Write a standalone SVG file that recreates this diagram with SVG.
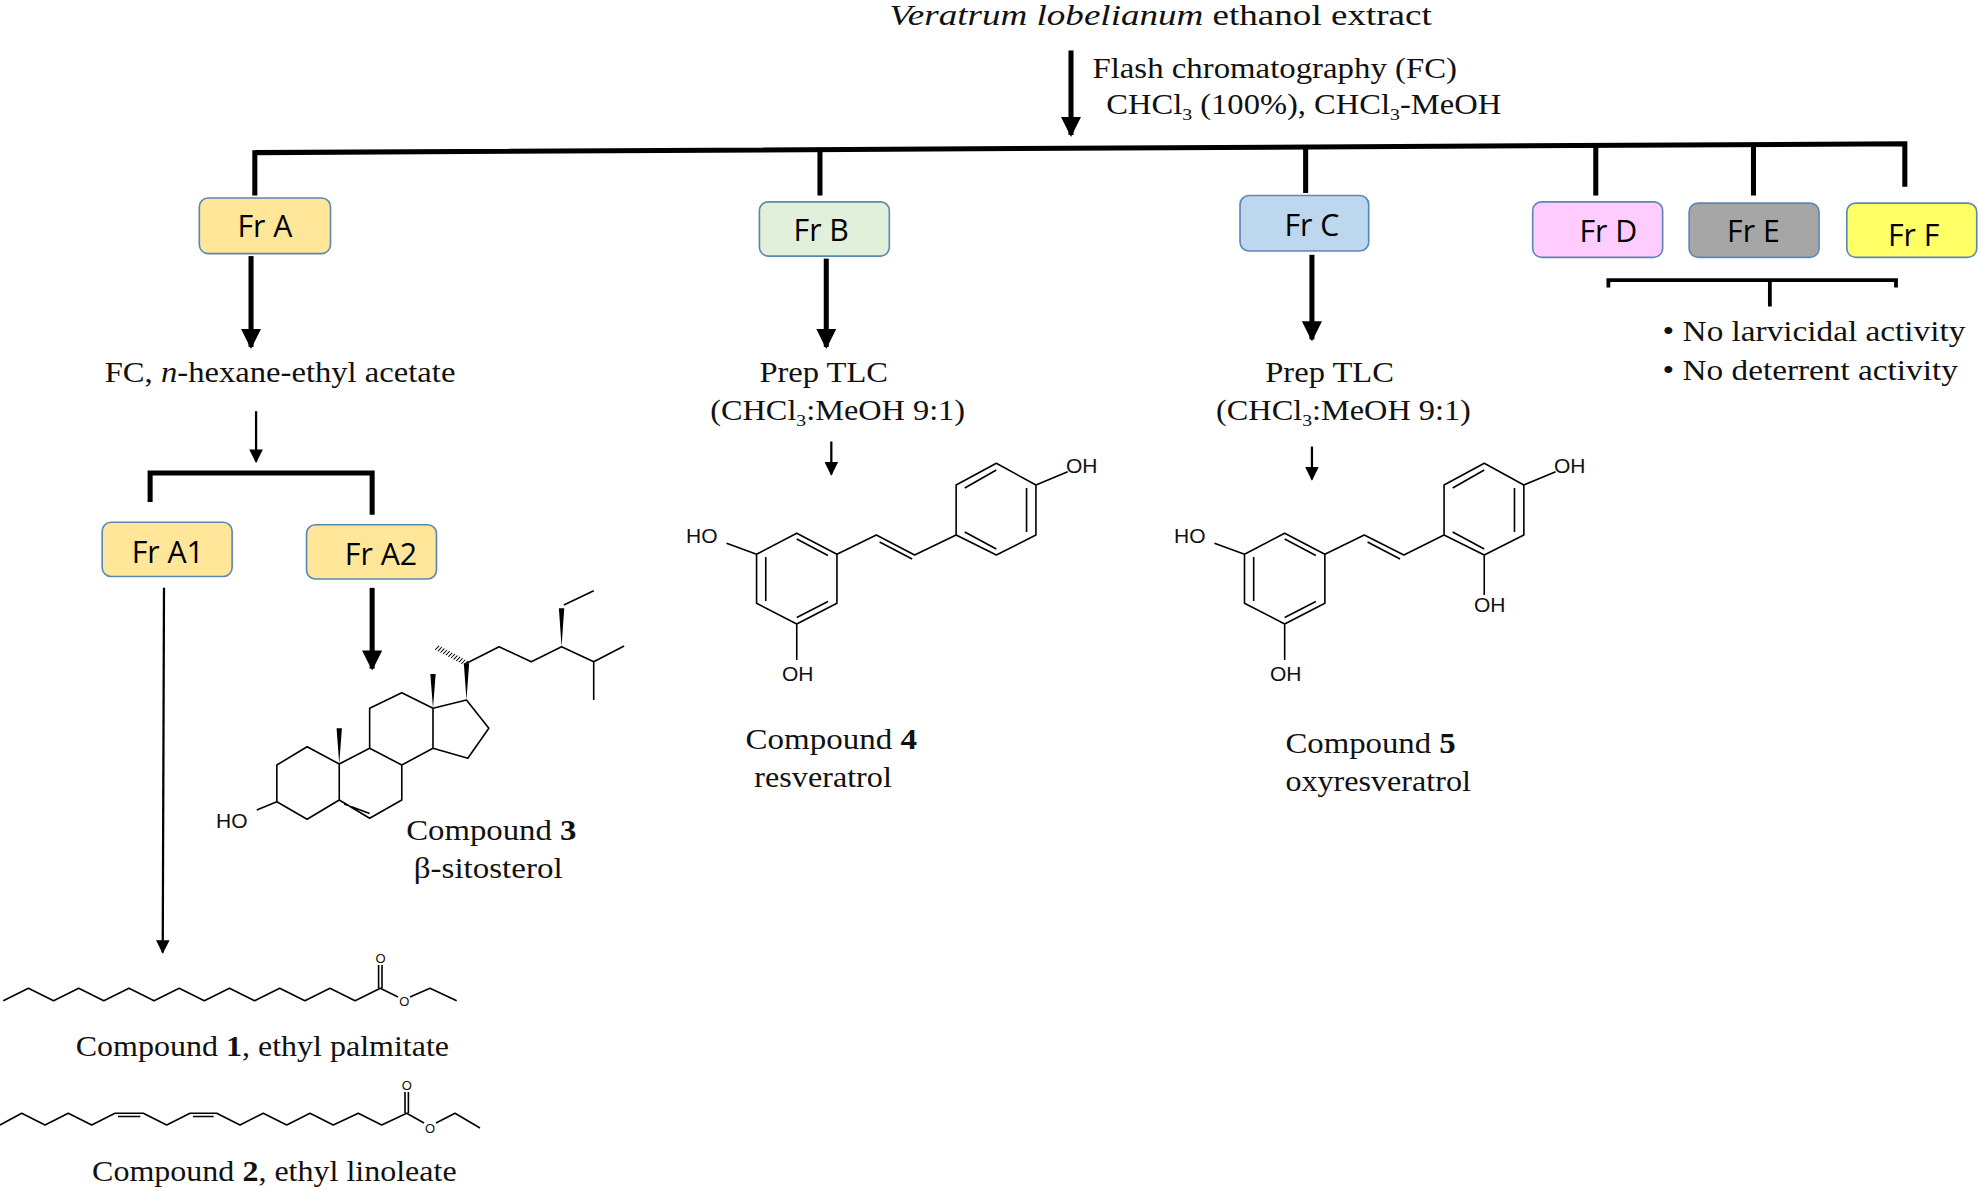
<svg xmlns="http://www.w3.org/2000/svg" width="1978" height="1189" viewBox="0 0 1978 1189">
<style>
.t{font-family:"Liberation Serif",serif;font-size:23px;fill:#111}
.bx{stroke:#5B87B5;stroke-width:1.3}
.bt{font-family:"Open Sans","Liberation Sans",sans-serif;font-size:24px;fill:#000;text-anchor:middle}
.k{stroke:#000;stroke-width:4;fill:none}
.n{stroke:#000;stroke-width:1.8;fill:none}
.m{stroke:#000;stroke-width:1.6;fill:none;stroke-linejoin:round}
.v{vector-effect:non-scaling-stroke}
.a{font-family:"Liberation Sans",sans-serif;font-size:21px;fill:#111}
.s{font-family:"Liberation Sans",sans-serif;font-size:13px;fill:#111;text-anchor:middle}
</style>
<defs>
<marker id="ah" viewBox="0 0 10 10" refX="9" refY="5" markerWidth="4" markerHeight="4" orient="auto"><path d="M0,0L10,5L0,10z" fill="#000"/></marker>
<marker id="ahs" viewBox="0 0 10 10" refX="9" refY="5" markerWidth="6" markerHeight="6" orient="auto"><path d="M0,0L10,5L0,10z" fill="#000"/></marker>
</defs>
<rect width="1978" height="1189" fill="#fff"/>
<g transform="scale(1.26148)">
<g id="connectors">
<line class="k" x1="849" y1="40" x2="849" y2="107" marker-end="url(#ah)"/>
<path class="k" d="M202,155V121L1510,114V148"/>
<line class="k" x1="650" y1="119" x2="650" y2="155"/>
<line class="k" x1="1035" y1="117" x2="1035" y2="153"/>
<line class="k" x1="1265" y1="116" x2="1265" y2="155"/>
<line class="k" x1="1390" y1="115" x2="1390" y2="155"/>
<line class="k" x1="199" y1="203" x2="199" y2="275" marker-end="url(#ah)"/>
<line class="n" x1="203" y1="326" x2="203" y2="366" marker-end="url(#ahs)"/>
<path class="k" d="M119,398V375H295V408"/>
<line class="n" x1="130" y1="466" x2="129" y2="755" marker-end="url(#ahs)"/>
<line class="k" x1="295" y1="466" x2="295" y2="530" marker-end="url(#ah)"/>
<line class="k" x1="655" y1="205" x2="655" y2="275" marker-end="url(#ah)"/>
<line class="k" x1="1040" y1="202" x2="1040" y2="269" marker-end="url(#ah)"/>
<line class="n" x1="659" y1="350" x2="659" y2="376" marker-end="url(#ahs)"/>
<line class="n" x1="1040" y1="354" x2="1040" y2="380" marker-end="url(#ahs)"/>
<path d="M1275,228V222H1503V228M1403,222V243" stroke="#000" stroke-width="3" fill="none"/>
</g>
<g id="title">
<text class="t" x="705" y="20" font-size="25" textLength="430" lengthAdjust="spacingAndGlyphs"><tspan font-style="italic">Veratrum lobelianum</tspan> ethanol  extract</text>
<text class="t" x="866" y="62" textLength="289" lengthAdjust="spacingAndGlyphs">Flash chromatography (FC)</text>
<text class="t" x="877" y="90" textLength="313" lengthAdjust="spacingAndGlyphs">CHCl<tspan font-size="14" dy="5">3</tspan><tspan dy="-5"> (100%),  CHCl</tspan><tspan font-size="14" dy="5">3</tspan><tspan dy="-5">-MeOH</tspan></text>
</g>
<g id="frA"><rect class="bx" x="158" y="157" width="104" height="44" rx="7" fill="#FFE699"/><text class="bt" x="210" y="188">Fr A</text></g>
<g id="frB"><rect class="bx" x="602" y="160" width="103" height="43" rx="7" fill="#E2EFDA"/><text class="bt" x="651" y="191">Fr B</text></g>
<g id="frC"><rect class="bx" x="983" y="155" width="102" height="44" rx="7" fill="#BDD7EE"/><text class="bt" x="1040" y="187">Fr C</text></g>
<g id="frD"><rect class="bx" x="1215" y="160" width="103" height="44" rx="7" fill="#FFCCFF"/><text class="bt" x="1275" y="192">Fr D</text></g>
<g id="frE"><rect class="bx" x="1339" y="161" width="103" height="43" rx="7" fill="#A6A6A6"/><text class="bt" x="1390" y="192">Fr E</text></g>
<g id="frF"><rect class="bx" x="1464" y="161" width="103" height="43" rx="7" fill="#FFFF66"/><text class="bt" x="1517" y="195">Fr F</text></g>
<g id="frA1"><rect class="bx" x="81" y="414" width="103" height="43" rx="7" fill="#FFE699"/><text class="bt" x="133" y="446">Fr A1</text></g>
<g id="frA2"><rect class="bx" x="243" y="416" width="103" height="43" rx="7" fill="#FFE699"/><text class="bt" x="302" y="448">Fr A2</text></g>
<g id="labels">
<text class="t" x="83" y="303" textLength="278" lengthAdjust="spacingAndGlyphs">FC, <tspan font-style="italic">n</tspan>-hexane-ethyl  acetate</text>
<text class="t" x="602" y="303" textLength="102" lengthAdjust="spacingAndGlyphs">Prep TLC</text>
<text class="t" x="563" y="333" textLength="202" lengthAdjust="spacingAndGlyphs">(CHCl<tspan font-size="14" dy="5">3</tspan><tspan dy="-5">:MeOH  9:1)</tspan></text>
<text class="t" x="1003" y="303" textLength="102" lengthAdjust="spacingAndGlyphs">Prep TLC</text>
<text class="t" x="964" y="333" textLength="202" lengthAdjust="spacingAndGlyphs">(CHCl<tspan font-size="14" dy="5">3</tspan><tspan dy="-5">:MeOH  9:1)</tspan></text>
<text class="t" x="1318" y="270" textLength="240" lengthAdjust="spacingAndGlyphs">•  No larvicidal  activity</text>
<text class="t" x="1318" y="301" textLength="234" lengthAdjust="spacingAndGlyphs">•  No deterrent  activity</text>
<text class="t" x="591" y="594" textLength="136" lengthAdjust="spacingAndGlyphs">Compound <tspan font-weight="bold">4</tspan></text>
<text class="t" x="598" y="624" textLength="109" lengthAdjust="spacingAndGlyphs">resveratrol</text>
<text class="t" x="1019" y="597" textLength="135" lengthAdjust="spacingAndGlyphs">Compound <tspan font-weight="bold">5</tspan></text>
<text class="t" x="1019" y="627" textLength="147" lengthAdjust="spacingAndGlyphs">oxyresveratrol</text>
<text class="t" x="322" y="666" textLength="135" lengthAdjust="spacingAndGlyphs">Compound <tspan font-weight="bold">3</tspan></text>
<text class="t" x="328" y="696" textLength="118" lengthAdjust="spacingAndGlyphs">β-sitosterol</text>
<text class="t" x="60" y="837" textLength="296" lengthAdjust="spacingAndGlyphs">Compound <tspan font-weight="bold">1</tspan>, ethyl  palmitate</text>
<text class="t" x="73" y="936" textLength="289" lengthAdjust="spacingAndGlyphs">Compound <tspan font-weight="bold">2</tspan>, ethyl  linoleate</text>
</g>
</g>
<g id="sitosterol">
<g transform="scale(1.3393,1)">
<path class="m v" d="M206.7,765L229.3,746.7L253.3,764L253.3,800L229.3,819.3L206.7,801.7Z M206.7,801.7L191.7,810 M253.3,764L276,748.3L300,765L300,800L276,818.3L253.3,800 M257,804L276,813.5 M276,748.3L276,708.3L300,692.7L323.3,708.3L323.3,748.3L300,765 M323.3,708.3L348.3,700L365,728.3L349.3,758.3L323.3,748.3 M348.3,663.3L372.7,646.7L396.7,661.7L419.3,646.7L443.3,661.7L466,646 M443.3,661.7L443.3,700 M421,605L443.3,590.7"/>
<path d="M253.3,764L251.3,728.3L255.3,728.3Z M323.3,708.3L321.3,674L325.3,674Z M348.3,700L346.3,663.3L350.3,663.3Z M419.3,646.7L417.3,608.3L421.3,608.3Z" fill="#000"/>
<path d="M348.3,663.3L325,646.7" stroke="#000" stroke-width="5" stroke-dasharray="0.8,1.6" fill="none"/>
</g>
<text class="a" x="216" y="828">HO</text>
</g>
<g id="resveratrol">
<g transform="translate(650,0) scale(1.9134,1) translate(-650,0)">
<g id="resL">
<path class="m v" d="M726.7,533.3L747.7,554.3L747.7,603.3L726.7,624L705.7,603.3L705.7,554.3Z M726.7,539L743,555.5 M743,601.5L726.7,617.5 M710.5,557V601 M705.7,554.3L690,543.3 M726.7,624V660"/>
</g>
<path class="m v" d="M747.7,554.3L768.3,535L788.3,555L810,535 M770,542L787,559 M810,535V485L831,463.3L851.7,485V535L831,555Z M814.5,488L831,470 M846.8,488V532 M814.5,532L831,549 M851.7,485L868.3,471.7"/>
</g>
<text class="a" x="686" y="543">HO</text>
<text class="a" x="782" y="681">OH</text>
<text class="a" x="1066" y="473">OH</text>
</g>
<g id="oxyresveratrol">
<g transform="translate(650,0) scale(1.9134,1) translate(-650,0)">
<use href="#resL" transform="translate(255,0)"/>
<path class="m v" d="M1002.7,554.3L1023.3,535L1044,555L1065,535 M1025,542L1042,559 M1065,535V485L1086,463.3L1106.7,485V535L1086,555Z M1069.5,488L1086,470 M1101.8,488V532 M1069.5,532L1086,549 M1106.7,485L1123.3,471.7 M1086,555V595"/>
</g>
<text class="a" x="1174" y="543">HO</text>
<text class="a" x="1270" y="681">OH</text>
<text class="a" x="1554" y="473">OH</text>
<text class="a" x="1474" y="612">OH</text>
</g>
<g id="palmitate">
<path class="m" d="M3.3,1000.7L28.4,988.3L53.6,1000.7L78.7,988.3L103.8,1000.7L129,988.3L154.1,1000.7L179.2,988.3L204.3,1000.7L229.5,988.3L254.6,1000.7L279.7,988.3L304.9,1000.7L330,988.3L355.1,1000.7L380.3,988.3L398,997 M378.6,988V965 M382,988V965 M410,997L430,988.3L456.7,1000.7"/>
<text class="s" x="380.5" y="963">O</text>
<text class="s" x="404.3" y="1006">O</text>
</g>
<g id="linoleate">
<path class="m" d="M0,1125L21.7,1113.3L45,1125L68.3,1113.3L91.7,1125L115,1113.3L143.3,1113.3L166.7,1125L190,1113.3L216.7,1113.3L240,1125L263.3,1113.3L286.7,1125L310,1113.3L333.3,1125L358.3,1113.3L381.7,1125L406.7,1113.3L424,1123 M118,1116.5H140.3 M193,1116.5H213.7 M405,1113V1092 M408.4,1113V1092 M436,1123L455,1113.3L480,1128"/>
<text class="s" x="406.7" y="1090">O</text>
<text class="s" x="430" y="1133">O</text>
</g>
</svg>
